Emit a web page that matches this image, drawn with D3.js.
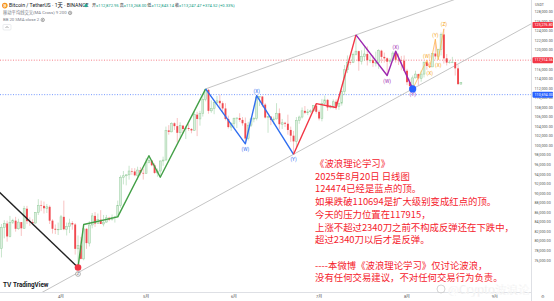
<!DOCTYPE html>
<html><head><meta charset="utf-8">
<script src="https://cdn.jsdelivr.net/npm/d3@7"></script>
<style>html,body{margin:0;padding:0;background:#fff;overflow:hidden}</style>
</head><body><svg id="c" width="554" height="301"></svg>
<script>
// ---- daily candles (prices in thousands USDT), consecutive days from startDate; open = previous close
const startDate = "2025-03-09";
const firstOpen = 86.2;
const closes = [
 80.7,78.5,82.9,83.7,81.0,83.9,84.3,82.6,84.0,82.7,86.8,84.2,84.0,83.8,86.0,87.5,87.4,86.9,87.2,84.3,82.6,82.4,82.5,
 85.1,82.5,83.1,83.8,83.5,78.4,79.1,76.3,82.6,79.6,83.4,85.3,83.7,84.5,83.6,84.0,84.9,84.5,85.0,85.1,87.5,93.4,93.7,93.9,94.7,94.6,93.8,94.9,94.3,94.2,
 96.5,96.9,95.9,94.3,94.7,96.8,97.0,103.2,102.9,104.7,104.1,102.7,104.2,103.5,103.7,103.5,103.2,106.5,105.6,106.8,109.7,111.7,107.3,107.8,109.0,109.4,108.9,107.8,105.6,103.9,104.6,
 105.7,105.8,105.4,104.7,101.5,104.3,105.6,105.7,110.2,110.3,108.6,105.9,106.1,105.4,105.6,106.8,104.5,104.8,104.6,103.3,102.1,100.9,105.3,106.0,107.3,106.9,107.1,107.3,108.4,107.1,
 105.7,108.8,109.6,108.0,108.2,109.2,108.2,108.9,111.3,115.9,117.5,117.4,119.1,119.8,117.7,118.7,119.2,117.9,117.9,117.3,117.4,119.9,118.6,118.3,117.6,117.9,119.4,118.0,117.9,117.8,115.7,
 113.3,112.5,114.2,115.0,114.1,115.0,117.5,116.7,116.5,119.3,118.7,120.1,123.3,118.3,117.4,117.5,117.5,116.2,112.9,113.247
];
const highs = [
 86.5,84.1,83.6,84.4,84.3,85.3,84.7,85.1,84.7,84.0,87.4,87.4,85.0,84.6,86.1,88.8,88.5,88.3,87.8,87.5,84.6,83.5,83.9,
 85.5,88.5,83.9,84.7,84.2,83.8,81.2,80.9,83.5,82.7,84.2,85.9,86.1,85.8,86.5,85.5,85.5,85.1,85.6,85.3,88.5,93.8,94.7,94.0,95.8,95.3,95.3,95.6,95.5,95.2,
 97.4,97.9,96.9,96.3,95.2,96.9,97.7,104.0,104.3,104.9,104.9,105.8,104.9,104.3,104.2,104.6,103.7,107.1,107.1,107.3,110.8,111.9,111.9,109.5,109.3,110.4,110.7,109.3,108.9,106.3,104.9,
 105.9,105.9,106.8,106.0,105.9,105.0,105.9,106.0,110.5,110.4,110.4,108.9,106.2,106.2,106.1,108.9,107.8,105.6,105.0,106.5,104.0,103.1,106.0,106.3,108.0,108.3,107.7,107.6,108.5,108.8,
 107.5,109.8,110.5,109.8,108.5,109.7,109.7,109.0,111.9,116.9,118.9,118.0,119.5,123.2,119.9,120.0,120.9,120.8,118.9,118.9,119.7,120.2,120.1,119.5,118.5,118.3,119.8,119.8,119.3,118.8,118.9,
 116.1,114.0,114.7,115.7,115.1,115.7,117.6,117.9,117.6,119.3,122.3,120.3,123.7,124.474,119.2,117.9,118.6,117.6,117.0,113.268
];
const lows = [
 80.0,77.5,76.6,80.6,79.9,80.8,83.6,82.0,82.4,81.1,82.6,83.6,83.2,83.6,83.7,85.5,86.3,85.8,85.9,83.6,81.6,81.5,81.3,
 82.4,82.3,81.2,81.7,82.4,77.2,74.5,76.2,76.0,78.4,78.9,82.7,83.0,83.7,83.6,83.1,83.9,84.2,84.3,83.9,85.1,87.0,91.9,91.7,92.9,93.9,93.6,92.9,93.8,92.9,
 94.1,96.3,95.7,94.1,93.5,93.4,95.8,96.9,102.3,102.8,103.3,100.7,101.4,102.6,101.4,103.1,102.6,103.1,102.0,104.2,106.1,109.3,106.7,106.9,106.6,108.7,107.6,106.8,105.3,103.6,103.1,
 103.7,103.7,105.0,104.2,100.4,101.1,103.9,104.9,105.3,108.3,108.1,105.7,102.7,104.3,104.5,105.5,103.4,103.5,103.9,102.3,100.8,98.2,99.6,104.6,105.7,106.6,106.4,106.8,107.2,106.7,
 105.3,105.1,108.5,107.3,107.8,107.8,107.5,107.5,108.4,110.6,115.2,116.9,117.3,118.9,115.7,117.0,117.8,116.8,117.3,116.5,116.6,116.1,117.3,117.4,114.7,117.2,117.8,117.4,116.9,115.8,115.5,
 112.7,112.0,111.9,114.1,112.7,113.4,114.3,115.9,116.3,116.5,118.1,118.0,118.9,117.2,116.8,117.2,117.3,114.7,112.7,112.843
];

// ---- wave drawings [date, price(k)]
const waveBlack  = [["2025-03-02",95.0],["2025-04-07",74.5]];
const waveGreen  = [["2025-04-07",74.5],["2025-04-09",83.5],["2025-04-21",85.1],["2025-05-02",97.9],["2025-05-06",93.4],["2025-05-22",111.9]];
const waveBlue   = [["2025-05-22",111.9],["2025-06-05",100.4],["2025-06-09",110.5],["2025-06-22",98.2]];
const waveRed    = [["2025-06-22",98.2],["2025-06-30",108.8],["2025-07-07",108.0],["2025-07-14",123.2]];
const wavePurple = [["2025-07-14",123.2],["2025-07-25",114.7],["2025-07-28",119.8],["2025-08-03",111.9]];
const waveOrange = [["2025-08-03",111.9],["2025-08-08",117.9],["2025-08-09",116.3],["2025-08-11",122.3],["2025-08-12",118.0],["2025-08-14",124.474]];

const blueLabels   = [["2025-06-05",100.4,"(W)","below"],["2025-06-09",110.5,"(X)","above"],["2025-06-22",98.2,"(Y)","below"]];
const purpleLabels = [["2025-07-25",114.7,"(W)","below"],["2025-07-28",119.8,"(X)","above"],["2025-08-03",111.9,"(Y)","below"]];
const orangeLabels = [["2025-08-08",117.9,"(W)","above"],["2025-08-09",116.3,"(X)","below"],["2025-08-11",122.3,"(Y)","above"],["2025-08-12",118.0,"(X)","below"],["2025-08-14",124.474,"(Z)","above"]];

const channelUpper = [["2025-05-22",111.9],["2025-07-14",123.2]];
const channelLower = [["2025-06-22",98.2],["2025-08-03",111.9]];
const redDot  = ["2025-04-07",74.5];
const blueDot = ["2025-08-03",111.9];

const hLines = [[117.91456,"#f23645"],[110.694,"#2962ff"]];
const priceMarkers = [[125.2768,"#f23645"],[117.91456,"#f23645"],[110.694,"#2962ff"]];

const priceTicks = d3.range(76, 129, 2);
const monthTicks = [["2025-04-01","4月"],["2025-05-01","5月"],["2025-06-01","6月"],["2025-07-01","7月"],["2025-08-01","8月"],["2025-09-01","9月"]];

const headerTitle = "Bitcoin / TetherUS · 1天 · BINANCE";
const ohlc = [["开","112,872.95"],["高","113,268.00"],["低","112,843.14"],["收","113,247.47"]];
const ohlcChange = "+374.52 (+0.33%)";
const indicatorLines = ["移动平均线交叉(MA Cross) 9 200","BB 20 SMA close 2"];

const noteLines = [
 "《波浪理论学习》",
 "2025年8月20日 日线图",
 "124474已经是蓝点的顶。",
 "如果跌破110694是扩大级别变成红点的顶。",
 "今天的压力位置在117915，",
 "上涨不超过2340刀之前不构成反弹还在下跌中，",
 "超过2340刀以后才是反弹。",
 "",
 "----本微博《波浪理论学习》仅讨论波浪，",
 "没有任何交易建议，不对任何交易行为负责。"
];

// ---- build
const parse = d3.utcParse("%Y-%m-%d");
const t0 = parse(startDate);
const candles = closes.map((c,i)=>({
  date: d3.utcDay.offset(t0,i),
  open: i===0?firstOpen:closes[i-1], close:c, high:highs[i], low:lows[i]
}));

const W=554,H=301, plotR=531, plotB=292;
const x = d3.scaleUtc().domain([parse("2025-04-01"),parse("2025-08-01")]).range([61,407]);
const y = d3.scaleLinear().domain([128,76]).range([12,260.3]);

const svg = d3.select("#c");
svg.append("rect").attr("width",W).attr("height",H).attr("fill","#fff");
const defs = svg.append("defs");
defs.append("clipPath").attr("id","plot").append("rect").attr("x",0).attr("y",0).attr("width",plotR).attr("height",plotB);
const g = svg.append("g").attr("clip-path","url(#plot)");

// horizontal dotted lines
hLines.forEach(([p,col])=>{
  g.append("line").attr("x1",0).attr("x2",plotR).attr("y1",y(p)).attr("y2",y(p))
   .attr("stroke",col).attr("stroke-width",0.8).attr("stroke-dasharray","1,1.6").attr("opacity",0.8);
});

// channel lines
function pt(d){return [x(parse(d[0])), y(d[1])];}
function extLine(a,b,fromA){
  const [x1,y1]=pt(a),[x2,y2]=pt(b); const s=(y2-y1)/(x2-x1);
  const xs = fromA? x1 : -10; const xe = plotR+10;
  g.append("line").attr("x1",xs).attr("y1",y1+s*(xs-x1)).attr("x2",xe).attr("y2",y1+s*(xe-x1))
   .attr("stroke","#bdbdbd").attr("stroke-width",0.9);
}
extLine(channelUpper[0],channelUpper[1],true);
extLine(channelLower[0],channelLower[1],false);

// candles
const bw = 1.9;
const cg = g.append("g");
cg.selectAll("line.w").data(candles).join("line")
  .attr("x1",d=>x(d.date)).attr("x2",d=>x(d.date)).attr("y1",d=>y(d.high)).attr("y2",d=>y(d.low))
  .attr("stroke",d=>d.close>=d.open?"#a3d3a9":"#f39a9a").attr("stroke-width",0.6);
cg.selectAll("rect").data(candles).join("rect")
  .attr("x",d=>x(d.date)-bw/2).attr("width",bw)
  .attr("y",d=>y(Math.max(d.open,d.close)))
  .attr("height",d=>Math.max(0.6,Math.abs(y(d.open)-y(d.close))))
  .attr("fill",d=>d.close>=d.open?"#daeedd":"#f0494f")
  .attr("stroke",d=>d.close>=d.open?"#94cc9b":"none").attr("stroke-width",0.5);

// waves
const lineGen = d3.line().x(d=>x(parse(d[0]))).y(d=>y(d[1]));
[[waveBlack,"#222",1.4],[waveGreen,"#43a047",1.4],[waveBlue,"#2f6ef0",1.4],[waveRed,"#f23645",1.4],[wavePurple,"#9c27b0",1.4],[waveOrange,"#ffb74d",0.8]]
 .forEach(([data,col,w])=>{
  g.append("path").attr("d",lineGen(data)).attr("fill","none").attr("stroke",col).attr("stroke-width",w).attr("stroke-linejoin","round");
 });

function labels(arr,col){
  arr.forEach(([d,p,t,pos])=>{
    g.append("text").attr("x",x(parse(d))).attr("y",y(p)+(pos==="above"?-2.5:7.2))
     .attr("text-anchor","middle").attr("font-family","Roboto, Arial, sans-serif").attr("font-size",4.8)
     .attr("fill",col).text(t);
  });
}
labels(blueLabels,"#2f6ef0");
labels(purpleLabels,"#9c27b0");
labels(orangeLabels,"#f5a623");

// dots
g.append("circle").attr("cx",x(parse(redDot[0]))).attr("cy",y(redDot[1])).attr("r",3.3).attr("fill","#f23645");
g.append("circle").attr("cx",x(parse(redDot[0]))).attr("cy",y(redDot[1])+6.5).attr("r",2.4).attr("fill","#fff").attr("stroke","#666").attr("stroke-width",0.5);
g.append("text").attr("x",x(parse(redDot[0]))).attr("y",y(redDot[1])+7.8).attr("text-anchor","middle").attr("font-size",3.4).attr("font-family","Arial").attr("fill","#444").text("Z");
g.append("circle").attr("cx",x(parse(blueDot[0]))).attr("cy",y(blueDot[1])).attr("r",3.6).attr("fill","#2962ff");

// axes frame
svg.append("line").attr("x1",plotR+0.5).attr("x2",plotR+0.5).attr("y1",0).attr("y2",H).attr("stroke","#d6d8de").attr("stroke-width",0.8);
svg.append("line").attr("x1",0).attr("x2",plotR).attr("y1",plotB+0.5).attr("y2",plotB+0.5).attr("stroke","#d6d8de").attr("stroke-width",0.8);

// price axis
const fmt = d3.format(",.2f");
svg.append("g").selectAll("text").data(priceTicks).join("text")
  .attr("x",534.5).attr("y",v=>y(v)+1.2).attr("font-size",3.7).attr("font-family","Roboto, Arial, sans-serif")
  .attr("fill","#555").text(v=>fmt(v*1000));
svg.append("text").attr("x",535).attr("y",6).attr("font-size",3.6).attr("font-family","Roboto, Arial").attr("fill","#555").text("USDT");
priceMarkers.forEach(([p,col])=>{
  svg.append("rect").attr("x",532.5).attr("y",y(p)-3).attr("width",20.5).attr("height",6).attr("rx",0.8).attr("fill",col);
  svg.append("text").attr("x",534.5).attr("y",y(p)+1.3).attr("font-size",3.7).attr("font-family","Roboto, Arial, sans-serif")
    .attr("fill","#fff").text(fmt(p*1000));
});

// time axis
svg.append("g").selectAll("text").data(monthTicks).join("text")
  .attr("x",d=>x(parse(d[0]))).attr("y",298).attr("text-anchor","middle")
  .attr("font-size",4).attr("font-family","Roboto, 'Noto Sans CJK SC', sans-serif").attr("fill","#555").text(d=>d[1]);
svg.append("text").attr("x",543).attr("y",298).attr("text-anchor","middle").attr("font-size",4).attr("fill","#777").text("⚙");

// header
const hf = "Roboto, 'Noto Sans CJK SC', Arial, sans-serif";
svg.append("circle").attr("cx",4.8).attr("cy",5.6).attr("r",2.8).attr("fill","#f7931a");
svg.append("text").attr("x",4.8).attr("y",7.1).attr("text-anchor","middle").attr("font-size",3.8).attr("fill","#fff").attr("font-family","Arial").attr("font-weight","bold").text("₿");
svg.append("text").attr("x",9).attr("y",7.4).attr("font-size",5.2).attr("font-family",hf).attr("fill","#131722").text(headerTitle);
svg.append("circle").attr("cx",86).attr("cy",5.6).attr("r",1.6).attr("fill","#22ab94");
const ht = svg.append("text").attr("x",92).attr("y",7.3).attr("font-size",4.1).attr("font-family",hf);
ohlc.forEach(([k,v],i)=>{
  ht.append("tspan").attr("fill","#131722").text((i?" ":"")+k);
  ht.append("tspan").attr("fill","#089981").text("="+v);
});
ht.append("tspan").attr("fill","#089981").text(" "+ohlcChange);
indicatorLines.forEach((t,i)=>{
  const tx = svg.append("text").attr("x",3).attr("y",14.3+i*7).attr("font-size",4.3).attr("font-family",hf).attr("fill","#787b86").text(t);
  const len = tx.node().getComputedTextLength();
  svg.append("circle").attr("cx",3+len+3.5).attr("cy",12.9+i*7).attr("r",1.7).attr("fill","none").attr("stroke","#555").attr("stroke-width",0.5);
  svg.append("circle").attr("cx",3+len+3.5).attr("cy",12.9+i*7).attr("r",0.6).attr("fill","#555");
});
svg.append("rect").attr("x",3).attr("y",24.5).attr("width",8).attr("height",5.5).attr("rx",1).attr("fill","#fff").attr("stroke","#d6d8de").attr("stroke-width",0.5);
svg.append("path").attr("d","M5.5,28 L7,26.5 L8.5,28").attr("fill","none").attr("stroke","#555").attr("stroke-width",0.5);

// TradingView logo
svg.append("text").attr("x",3).attr("y",287).attr("font-size",6.5).attr("font-weight","900").attr("font-family","Arial, sans-serif").attr("fill","#131722").text("TV");
svg.append("text").attr("x",13).attr("y",287).attr("font-size",6.3).attr("font-weight","bold").attr("font-family","Roboto, Arial, sans-serif").attr("fill","#131722").text("TradingView");

// note text
const nt = svg.append("g");
noteLines.forEach((t,i)=>{
  nt.append("text").attr("x",315).attr("y",167+i*12.7).attr("font-size",9.4)
    .attr("font-family","'Noto Sans CJK SC', sans-serif").attr("fill","#f5222d").text(t);
});

// watermark
svg.append("circle").attr("cx",441).attr("cy",289).attr("r",4).attr("fill","none").attr("stroke","#ccc").attr("stroke-width",0.8);
svg.append("text").attr("x",448).attr("y",294).attr("font-size",11.5).attr("font-family","'Noto Sans CJK SC', sans-serif")
  .attr("fill","#d0d0d0").attr("stroke","#fff").attr("stroke-width",0.6).attr("opacity",0.85).text("@Crypto波浪论");
</script></body></html>
